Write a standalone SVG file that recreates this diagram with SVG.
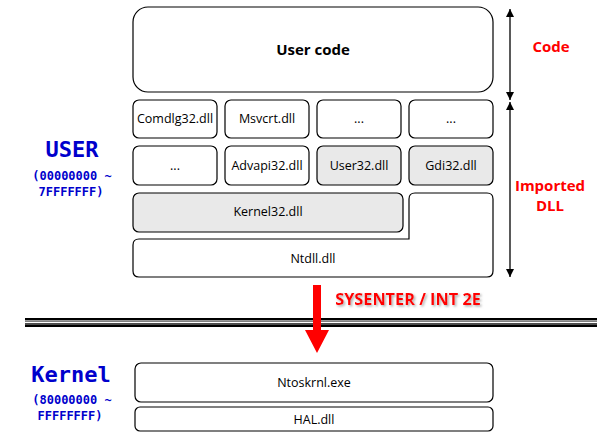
<svg xmlns="http://www.w3.org/2000/svg" width="597" height="437" viewBox="0 0 597 437">
<style>
.box{fill:#fff;stroke:#000;stroke-width:1.2}
.gray{fill:#e9e9e9}
.t{font-family:"Open Sans","Noto Sans","Liberation Sans",sans-serif;font-size:12.5px;fill:#000;text-anchor:middle}
.b{font-weight:bold}
.red{font-family:"Open Sans","Noto Sans","Liberation Sans",sans-serif;font-size:15px;font-weight:bold;fill:#ff0000;text-anchor:middle}
.blue{font-family:"DejaVu Sans Mono","Liberation Mono",monospace;font-weight:bold;fill:#0000cc;text-anchor:middle}
.conn{stroke:#000;stroke-width:1.3;fill:none}
</style>
<defs>
<marker id="ah" viewBox="0 0 10 10" refX="10" refY="5" markerWidth="8" markerHeight="8" markerUnits="userSpaceOnUse" orient="auto-start-reverse">
<path d="M0,0 L10,5 L0,10 z" fill="#000"/>
</marker>
<filter id="sh" x="-10%" y="-30%" width="120%" height="160%">
<feDropShadow dx="1.5" dy="1.5" stdDeviation="1" flood-color="#888" flood-opacity="0.7"/>
</filter>
</defs>
<rect width="597" height="437" fill="#fff"/>

<g id="user-code"><rect class="box" x="133" y="7" width="360" height="85" rx="15"/><text class="t b" x="313" y="55" style="font-size:15px">User code</text></g>
<g id="comdlg32"><rect class="box" x="133" y="100" width="84" height="38" rx="6"/><text class="t" x="175" y="123">Comdlg32.dll</text></g>
<g id="msvcrt"><rect class="box" x="225" y="100" width="84" height="38" rx="6"/><text class="t" x="267" y="123">Msvcrt.dll</text></g>
<g id="etc1"><rect class="box" x="317" y="100" width="84" height="38" rx="6"/><text class="t" x="359" y="123">...</text></g>
<g id="etc2"><rect class="box" x="409" y="100" width="84" height="38" rx="6"/><text class="t" x="451" y="123">...</text></g>
<g id="etc3"><rect class="box" x="133" y="146" width="84" height="39" rx="6"/><text class="t" x="175" y="170">...</text></g>
<g id="advapi32"><rect class="box" x="225" y="146" width="84" height="39" rx="6"/><text class="t" x="267" y="170">Advapi32.dll</text></g>
<g id="user32"><rect class="box gray" x="317" y="146" width="84" height="39" rx="6"/><text class="t" x="359" y="170">User32.dll</text></g>
<g id="gdi32"><rect class="box gray" x="409" y="146" width="84" height="39" rx="6"/><text class="t" x="451" y="170">Gdi32.dll</text></g>
<g id="kernel32"><rect class="box gray" x="133" y="193" width="270" height="39" rx="6"/><text class="t" x="268" y="216">Kernel32.dll</text></g>
<g id="ntdll"><path class="box" d="M139,239 L409,239 L409,199 Q409,193 415,193 L487,193 Q493,193 493,199 L493,271 Q493,277 487,277 L139,277 Q133,277 133,271 L133,245 Q133,239 139,239 Z"/><text class="t" x="313" y="263">Ntdll.dll</text></g>
<g id="ntoskrnl"><rect class="box" x="135" y="363" width="358" height="39" rx="6"/><text class="t" x="314" y="387">Ntoskrnl.exe</text></g>
<g id="hal"><rect class="box" x="135" y="407" width="358" height="24" rx="5"/><text class="t" x="314" y="424">HAL.dll</text></g>

<g id="user-label"><text class="blue" x="72" y="157" style="font-size:22px">USER</text><text class="blue" x="72" y="180" style="font-size:12px">(00000000 ~</text><text class="blue" x="71" y="196" style="font-size:12px">7FFFFFFF)</text></g>
<g id="kernel-label"><text class="blue" x="71" y="382" style="font-size:22px">Kernel</text><text class="blue" x="72" y="404" style="font-size:12px">(80000000 ~</text><text class="blue" x="70" y="420" style="font-size:12px">FFFFFFFF)</text></g>
<g id="code-label"><text class="red" x="551" y="52">Code</text></g>
<g id="dll-label"><text class="red" x="550" y="191">Imported</text><text class="red" x="550" y="211">DLL</text></g>

<g id="divider">
<rect x="25" y="318" width="572" height="9" fill="#000"/>
<rect x="25" y="320" width="572" height="1" fill="#999"/>
<rect x="25" y="321.5" width="572" height="1.5" fill="#fff"/>
<rect x="25" y="323.5" width="572" height="1" fill="#999"/>
</g>

<g id="connectors">
<line class="conn" x1="510" y1="9" x2="510" y2="100" marker-start="url(#ah)" marker-end="url(#ah)"/>
<line class="conn" x1="510" y1="102" x2="510" y2="277" marker-start="url(#ah)" marker-end="url(#ah)"/>
<path d="M313,285 L321,285 L321,330 L329,330 L317,353 L305,330 L313,330 Z" fill="#ff0000"/>
<text class="red" x="408" y="305" filter="url(#sh)" style="font-size:16.3px">SYSENTER / INT 2E</text>
</g>
</svg>
